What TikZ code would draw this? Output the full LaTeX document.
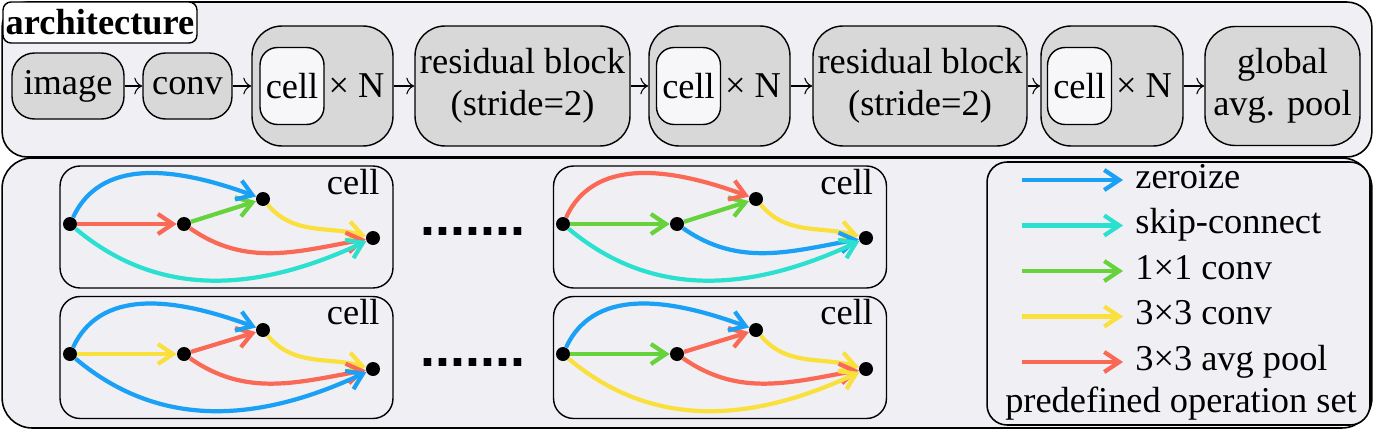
\documentclass[tikz,border=0pt]{standalone}
\usepackage{fontspec}
\setmainfont{Liberation Serif}
\newfontfamily\gapfont{Liberation Sans}
\usetikzlibrary{arrows.meta, positioning, calc}

\definecolor{panelbg}{RGB}{240,240,244}
\definecolor{blkgray}{RGB}{216,216,216}
\definecolor{cellwhite}{RGB}{247,247,250}
\definecolor{opblue}{RGB}{26,160,245}
\definecolor{opcyan}{RGB}{43,224,207}
\definecolor{opgreen}{RGB}{102,210,60}
\definecolor{opyellow}{RGB}{250,224,60}
\definecolor{opred}{RGB}{250,105,85}

\begin{document}
\begin{tikzpicture}[x=0.02cm, y=-0.02cm,
    font=\fontsize{20.7}{24}\selectfont,
    panel/.style={rectangle, draw, line width=0.9pt, fill=panelbg, rounded corners=0.5cm},
    blk/.style={rectangle, draw, line width=0.8pt, fill=blkgray, rounded corners=0.45cm, align=center, inner sep=0pt},
    grp/.style={blk, rounded corners=0.6cm, minimum height=2.4cm},
    incell/.style={rectangle, draw, line width=0.8pt, fill=cellwhite, rounded corners=0.35cm, inner sep=0pt, minimum width=1.28cm, minimum height=1.54cm},
    cellbox/.style={rectangle, draw, line width=0.8pt, fill=panelbg, rounded corners=0.4cm, minimum width=6.66cm, minimum height=2.44cm},
    celltag/.style={anchor=base east},
    vtx/.style={circle, fill=black, inner sep=0pt, minimum size=0.28cm},
    flow/.style={-{To[length=1.6mm]}, line width=0.6pt},
    op/.style={-{Straight Barb[length=3mm, width=4mm]}, line width=2.4pt},
    lgd/.style={anchor=west, text height=14pt, text depth=4.5pt, inner sep=0pt, inner xsep=0.24cm},
    gap/.style={anchor=base, font=\fontsize{30.6}{34}\gapfont\bfseries},
]
\useasboundingbox (0,0) rectangle (1376,433);

% Architecture
\node[panel, minimum width=27.4cm, minimum height=3.1cm] (top) at (687,79.5) {};
\node[rectangle, draw, line width=0.8pt, fill=white, rounded corners=0.16cm, minimum width=3.88cm, minimum height=0.82cm, inner sep=0pt, font=\fontsize{20.7}{24}\selectfont\bfseries] (archtag) at (100,22.5) {architecture};

\node[blk, minimum width=2.24cm, minimum height=1.32cm] (img) at (68,86) {image};
\node[blk, minimum width=1.78cm, minimum height=1.32cm] (conv) at (187.5,86) {conv};
\node[grp, minimum width=2.82cm] (g1) at (322.5,86) {};
\node[incell] (in1) at (292,86) {cell};
\node[right=0pt of in1, inner sep=2pt] (x1) {× N};
\node[grp, minimum width=4.3cm] (r1) at (522.5,86) {residual block\\(stride=2)};
\node[grp, minimum width=2.82cm] (g2) at (719.5,86) {};
\node[incell] (in2) at (688.5,86) {cell};
\node[right=0pt of in2, inner sep=2pt] (x2) {× N};
\node[grp, minimum width=4.28cm] (r2) at (920,86) {residual block\\(stride=2)};
\node[grp, minimum width=2.84cm] (g3) at (1112,86) {};
\node[incell] (in3) at (1079.5,86) {cell};
\node[right=0pt of in3, inner sep=2pt] (x3) {× N};
\node[grp, minimum width=3.1cm, minimum height=2.38cm] (pool) at (1282.5,86) {global\\avg. pool};

\draw[flow] (img) -- (conv);
\draw[flow] (conv) -- (g1);
\draw[flow] (g1) -- (r1);
\draw[flow] (r1) -- (g2);
\draw[flow] (g2) -- (r2);
\draw[flow] (r2) -- (g3);
\draw[flow] (g3) -- (pool);

% Sampled cells
\node[panel, rounded corners=0.6cm, minimum width=27.4cm, minimum height=5.4cm] (bot) at (687,293) {};

\node[cellbox] (cellA) at (226.5,227) {};
\node[celltag] (tagA) at ([xshift=-0.16cm, yshift=-0.58cm]cellA.north east) {cell};
\node[vtx] (a0) at (70,224) {};
\node[vtx] (a1) at (184,224) {};
\node[vtx] (a2) at (263,199) {};
\node[vtx] (a3) at (373,238) {};
\draw[op, opred] (a0) -- (a1);
\draw[op, opgreen] (a1) -- (a2);
\draw[op, opyellow] (a2) to[out=-50, in=165] (a3);
\draw[op, opred] (a1) to[out=-35, in=190] (a3);
\draw[op, opblue] (a0) to[out=65, in=160] (a2);
\draw[op, opcyan] (a0) to[out=-40, in=205] (a3);

\node[cellbox] (cellB) at (226.5,357.5) {};
\node[celltag] (tagB) at ([xshift=-0.16cm, yshift=-0.58cm]cellB.north east) {cell};
\node[vtx] (b0) at (70,354) {};
\node[vtx] (b1) at (184,354) {};
\node[vtx] (b2) at (263,330) {};
\node[vtx] (b3) at (373,369) {};
\draw[op, opyellow] (b0) -- (b1);
\draw[op, opred] (b1) -- (b2);
\draw[op, opyellow] (b2) to[out=-50, in=165] (b3);
\draw[op, opred] (b1) to[out=-35, in=190] (b3);
\draw[op, opblue] (b0) to[out=65, in=160] (b2);
\draw[op, opblue] (b0) to[out=-40, in=205] (b3);

\node[gap] (gapA) at (473,235) {.......};
\node[gap] (gapB) at (473,366) {.......};

\node[cellbox] (cellC) at (720,227) {};
\node[celltag] (tagC) at ([xshift=-0.16cm, yshift=-0.58cm]cellC.north east) {cell};
\node[vtx] (c0) at (563,224) {};
\node[vtx] (c1) at (677,224) {};
\node[vtx] (c2) at (756,199) {};
\node[vtx] (c3) at (866,238) {};
\draw[op, opgreen] (c0) -- (c1);
\draw[op, opgreen] (c1) -- (c2);
\draw[op, opyellow] (c2) to[out=-50, in=165] (c3);
\draw[op, opblue] (c1) to[out=-35, in=190] (c3);
\draw[op, opred] (c0) to[out=65, in=160] (c2);
\draw[op, opcyan] (c0) to[out=-40, in=205] (c3);

\node[cellbox] (cellD) at (720,357.5) {};
\node[celltag] (tagD) at ([xshift=-0.16cm, yshift=-0.58cm]cellD.north east) {cell};
\node[vtx] (d0) at (563,354) {};
\node[vtx] (d1) at (677,354) {};
\node[vtx] (d2) at (756,330) {};
\node[vtx] (d3) at (866,369) {};
\draw[op, opgreen] (d0) -- (d1);
\draw[op, opred] (d1) -- (d2);
\draw[op, opyellow] (d2) to[out=-50, in=165] (d3);
\draw[op, opred] (d1) to[out=-35, in=190] (d3);
\draw[op, opblue] (d0) to[out=65, in=160] (d2);
\draw[op, opyellow] (d0) to[out=-40, in=205] (d3);

% Operation set
\node[panel, rounded corners=0.4cm, minimum width=7.66cm, minimum height=5.26cm] (legend) at (1178.5,293.5) {};
\node[lgd] (lz) at (1123,180) {zeroize};
\node[lgd] (ls) at (1123,225.5) {skip-connect};
\node[lgd] (l1) at (1123,271) {1×1 conv};
\node[lgd] (l3) at (1123,316.5) {3×3 conv};
\node[lgd] (lp) at (1123,362) {3×3 avg pool};
\node[anchor=base] (lset) at (1181,412) {predefined operation set};
\draw[op, opblue] ([xshift=-2.02cm]lz.west) -- (lz.west);
\draw[op, opcyan] ([xshift=-2.02cm]ls.west) -- (ls.west);
\draw[op, opgreen] ([xshift=-2.02cm]l1.west) -- (l1.west);
\draw[op, opyellow] ([xshift=-2.02cm]l3.west) -- (l3.west);
\draw[op, opred] ([xshift=-2.02cm]lp.west) -- (lp.west);

\end{tikzpicture}
\end{document}
